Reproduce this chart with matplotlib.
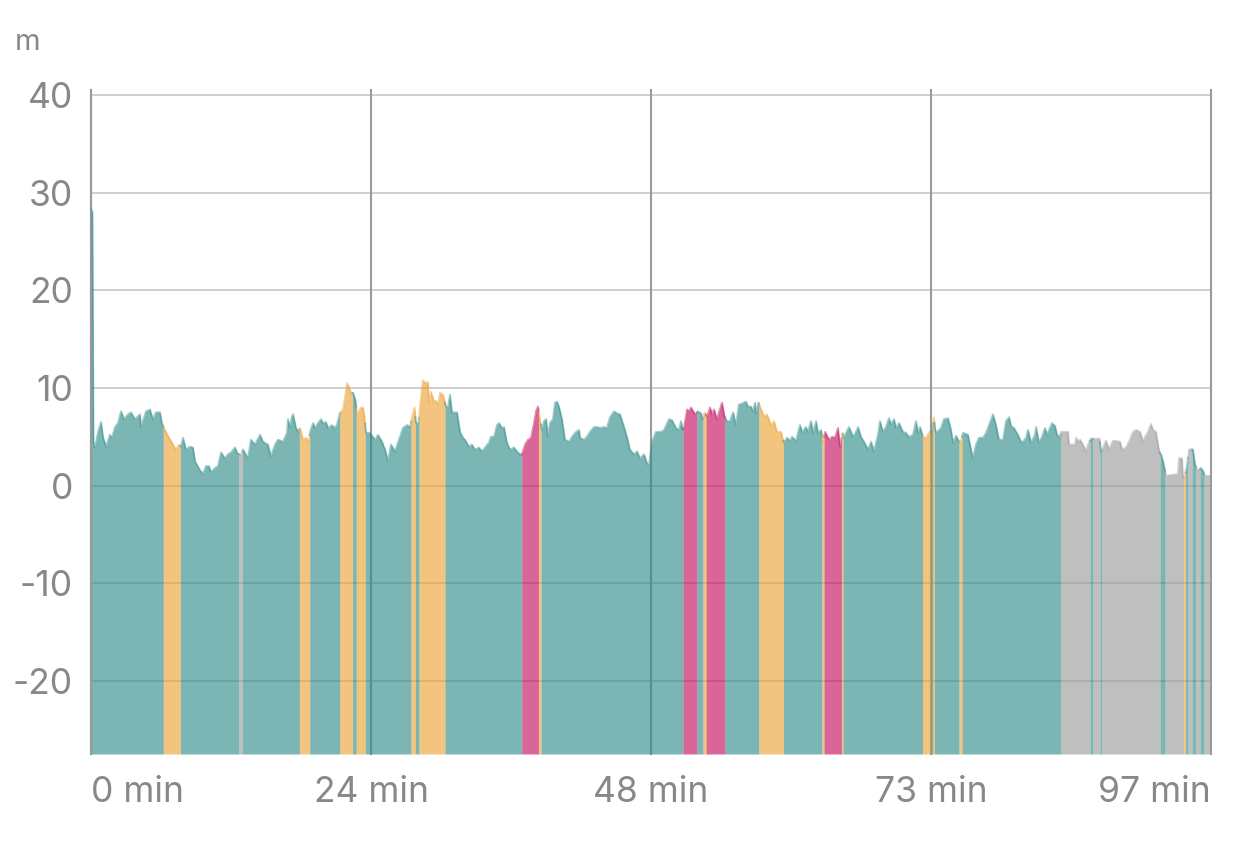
import numpy as np
import matplotlib.pyplot as plt

plt.rcParams['font.family'] = ['Inter', 'DejaVu Sans']
plt.rcParams['axes.unicode_minus'] = False

# dive length in minutes, depth profile in metres
total_min = 96.9
time_min = [
    0.00, 0.13, 0.22, 0.35, 0.61, 0.87, 1.04, 1.30, 1.64, 1.82, 2.08, 2.34, 2.60, 2.86, 3.20, 3.46,
    3.81, 4.24, 4.33, 4.76, 5.10, 5.36, 5.62, 5.97, 6.14, 6.32, 6.75, 7.01, 7.35, 7.61, 7.79, 7.96,
    8.22, 8.57, 8.83, 9.00, 9.43, 9.69, 9.95, 10.21, 10.38, 10.73, 10.99, 11.25, 11.59, 11.85, 12.11,
    12.46, 12.63, 12.80, 13.06, 13.15, 13.58, 13.84, 14.19, 14.62, 14.88, 15.31, 15.57, 15.92, 16.18,
    16.61, 16.96, 17.04, 17.22, 17.39, 17.48, 17.74, 17.95, 18.08, 18.34, 18.60, 18.86, 18.95, 19.21,
    19.38, 19.64, 19.90, 20.07, 20.33, 20.51, 20.85, 21.02, 21.28, 21.50, 21.63, 21.80, 21.98, 22.15,
    22.32, 22.50, 22.67, 22.88, 23.01, 23.36, 23.53, 23.66, 23.79, 24.14, 24.57, 24.83, 25.18, 25.44,
    25.70, 25.96, 26.30, 26.73, 26.99, 27.34, 27.60, 27.77, 27.99, 28.12, 28.34, 28.47, 28.72, 28.90,
    29.16, 29.24, 29.42, 29.68, 29.85, 30.02, 30.20, 30.46, 30.71, 30.89, 31.06, 31.23, 31.67, 31.93,
    32.19, 32.36, 32.70, 32.96, 33.22, 33.57, 33.83, 34.09, 34.43, 34.61, 34.87, 35.13, 35.30, 35.56,
    35.73, 35.99, 36.25, 36.60, 36.86, 37.12, 37.29, 37.55, 37.81, 38.07, 38.33, 38.50, 38.67, 38.80,
    39.02, 39.19, 39.37, 39.54, 39.71, 39.97, 40.15, 40.32, 40.49, 40.75, 41.01, 41.36, 41.62, 41.88,
    42.22, 42.31, 42.65, 42.91, 43.17, 43.52, 43.78, 44.04, 44.38, 44.64, 44.90, 45.25, 45.51, 45.77,
    46.12, 46.37, 46.63, 46.98, 47.24, 47.50, 47.85, 48.11, 48.28, 48.45, 48.54, 48.88, 49.32, 49.58,
    50.01, 50.27, 50.61, 50.87, 51.05, 51.18, 51.31, 51.57, 51.74, 51.91, 52.26, 52.52, 52.78, 52.91,
    53.08, 53.30, 53.56, 53.73, 53.90, 54.16, 54.33, 54.59, 54.81, 55.03, 55.29, 55.55, 55.81, 56.06,
    56.32, 56.67, 56.84, 57.10, 57.28, 57.45, 57.54, 57.75, 57.97, 58.23, 58.49, 58.83, 59.09, 59.35,
    59.70, 59.87, 59.96, 60.22, 60.48, 60.65, 61.00, 61.34, 61.52, 61.86, 62.03, 62.29, 62.47, 62.73,
    62.90, 63.16, 63.33, 63.51, 63.85, 64.11, 64.37, 64.63, 64.80, 65.02, 65.15, 65.32, 65.58, 65.93,
    66.19, 66.36, 66.62, 66.88, 67.23, 67.49, 67.74, 68.09, 68.26, 68.52, 68.78, 69.04, 69.22, 69.48,
    69.65, 69.91, 70.25, 70.51, 70.77, 71.12, 71.38, 71.55, 71.73, 71.98, 72.24, 72.55, 72.76, 72.92,
    73.07, 73.28, 73.54, 73.80, 74.15, 74.41, 74.58, 74.84, 75.06, 75.23, 75.45, 75.88, 76.14, 76.31,
    76.57, 76.83, 77.18, 77.44, 77.70, 78.04, 78.30, 78.56, 78.91, 79.17, 79.43, 79.60, 79.86, 80.20,
    80.46, 80.64, 80.90, 81.07, 81.33, 81.67, 81.76, 82.02, 82.28, 82.54, 82.71, 82.97, 83.14, 83.41,
    83.58, 83.84, 83.92, 84.53, 84.62, 85.14, 85.22, 85.40, 85.57, 85.83, 86.09, 86.26, 86.52, 86.78,
    87.26, 87.39, 87.56, 87.82, 88.08, 88.42, 89.03, 89.20, 89.55, 89.89, 90.15, 90.41, 90.76, 91.02,
    91.19, 91.45, 91.71, 91.88, 92.14, 92.32, 92.45, 92.58, 92.75, 92.88, 93.01, 94.05, 94.13, 94.39,
    94.48, 94.61, 94.82, 95.00, 95.22, 95.34, 95.52, 95.69, 95.86, 96.04, 96.21, 96.38, 96.90,
]
depth_m = [
    28.3, 28.0, 4.5, 3.9, 5.5, 6.5, 5.0, 4.0, 5.2, 4.9, 6.0, 6.4, 7.6, 6.8, 7.3, 7.5,
    6.8, 7.3, 6.0, 7.6, 7.8, 6.8, 7.5, 7.5, 6.4, 5.9, 4.9, 4.4, 3.7, 4.2, 4.0, 4.9,
    3.7, 4.0, 3.9, 2.5, 1.6, 1.2, 2.0, 2.0, 1.4, 1.8, 2.0, 3.4, 2.8, 3.2, 3.4,
    3.9, 3.4, 3.2, 3.2, 3.7, 2.8, 4.7, 4.2, 5.2, 4.5, 4.2, 3.0, 4.2, 4.7,
    4.5, 5.4, 6.8, 6.0, 7.1, 7.3, 5.9, 5.5, 5.9, 4.7, 4.9, 4.5, 5.5, 6.4,
    5.9, 6.4, 6.8, 6.4, 6.5, 5.9, 6.2, 5.9, 6.2, 7.3, 7.6, 7.8, 9.1, 10.5,
    10.1, 9.5, 9.5, 8.8, 7.3, 8.0, 8.0, 7.1, 5.4, 5.4, 4.7, 5.2, 4.5, 3.7,
    2.5, 4.2, 3.5, 5.0, 5.9, 6.2, 6.0, 7.0, 8.0, 6.4, 6.4, 8.1, 10.8, 10.5,
    10.6, 8.5, 9.6, 8.6, 8.7, 8.3, 9.5, 9.3, 8.1, 8.0, 9.3, 7.5, 7.5, 5.5,
    4.9, 4.7, 4.0, 4.2, 3.7, 3.9, 3.5, 3.9, 4.4, 5.0, 5.0, 6.2, 6.4, 5.9,
    6.0, 4.4, 3.7, 3.9, 3.5, 3.2, 3.2, 4.2, 4.7, 4.9, 6.4, 7.6, 8.1, 7.0,
    5.7, 6.6, 6.8, 5.0, 6.4, 6.8, 8.5, 8.6, 8.1, 6.8, 4.7, 4.5, 5.0, 5.4,
    5.7, 4.9, 4.7, 5.0, 5.5, 6.0, 6.0, 5.9, 6.0, 5.9, 7.0, 7.6, 7.4, 7.3,
    6.0, 5.0, 3.7, 3.2, 3.5, 2.8, 3.2, 2.3, 2.1, 3.7, 4.5, 5.5, 5.5, 5.7,
    6.8, 6.7, 5.9, 5.7, 6.6, 5.7, 6.0, 7.8, 7.6, 8.0, 7.3, 7.6, 7.4, 6.8,
    7.5, 7.1, 8.0, 7.3, 7.8, 6.8, 7.5, 8.5, 7.1, 6.6, 6.6, 7.5, 6.2, 8.3,
    8.4, 8.6, 8.1, 8.1, 7.6, 8.5, 7.4, 8.5, 7.8, 7.1, 7.3, 6.2, 6.6, 5.5,
    5.5, 4.7, 4.4, 4.9, 4.6, 5.0, 4.6, 6.2, 5.5, 6.0, 5.5, 6.6, 5.4, 6.6,
    5.4, 5.7, 4.5, 5.5, 4.7, 5.0, 4.9, 5.9, 4.0, 5.4, 4.9, 5.4, 6.0, 5.0,
    5.5, 6.0, 5.0, 4.5, 3.7, 4.5, 3.5, 5.2, 6.6, 5.5, 6.0, 6.9, 6.3, 6.8,
    5.9, 6.4, 5.5, 5.4, 5.0, 5.2, 6.6, 5.4, 6.0, 5.0, 4.9, 5.5, 5.5, 7.0,
    5.5, 5.6, 5.9, 6.8, 6.9, 5.7, 4.4, 5.1, 4.6, 4.4, 5.4, 5.2, 3.7, 2.8,
    4.2, 4.9, 4.9, 5.4, 6.2, 7.3, 6.2, 4.7, 4.7, 6.6, 7.0, 6.1, 5.9, 5.2,
    4.5, 4.5, 4.9, 5.7, 4.4, 5.2, 6.0, 4.4, 5.0, 5.9, 5.2, 5.9, 6.4, 6.1,
    5.2, 4.9, 5.5, 5.5, 4.2, 4.2, 4.9, 4.5, 4.7, 4.2, 3.5, 4.2, 4.8, 4.8,
    4.8, 3.4, 3.9, 4.6, 3.7, 4.6, 4.5, 3.7, 3.9, 4.7, 5.5, 5.7, 5.5, 4.5,
    5.0, 5.5, 6.3, 5.7, 5.5, 4.2, 3.4, 3.2, 2.5, 1.8, 1.0, 1.2, 2.8, 2.8,
    0.8, 0.8, 2.0, 3.7, 3.7, 3.7, 2.2, 1.6, 1.6, 1.8, 1.5, 1.0, 1.0,
]

# segment boundaries (minutes) and the status of each segment
seg_edges = [
    0.00, 6.26, 7.73, 12.79, 13.11, 18.03, 18.92, 21.54, 22.63, 22.95, 23.72, 27.69, 28.07, 28.38,
    30.63, 37.27, 38.72, 38.93, 51.22, 52.43, 52.95, 53.21, 54.85, 57.79, 59.91, 63.24, 63.42, 64.93,
    65.06, 71.94, 72.68, 72.85, 72.98, 75.10, 75.36, 83.88, 86.43, 86.69, 87.30, 87.47, 92.49, 92.93,
    94.55, 94.70, 94.91, 95.26, 95.60, 95.95, 96.30, 96.90,
]
seg_kind = [
    'ok', 'warn', 'ok', 'none', 'ok', 'warn', 'ok', 'warn', 'ok', 'warn', 'ok', 'warn', 'ok',
    'warn', 'ok', 'alert', 'warn', 'ok', 'alert', 'ok', 'warn', 'alert', 'ok', 'warn', 'ok', 'warn',
    'alert', 'warn', 'ok', 'warn', 'ok', 'warn', 'ok', 'warn', 'ok', 'none', 'ok', 'none', 'ok',
    'none', 'ok', 'none', 'warn', 'ok', 'none', 'ok', 'none', 'ok', 'none',
]
kind_color = {'ok': '#2a8a86', 'warn': '#eaa02f', 'alert': '#c2085a', 'none': '#999999'}

y_bottom = -27.47
y_top = 40.5
text_gray = '#888888'

fig = plt.figure(figsize=(12.42, 8.44), dpi=100)
ax = fig.add_axes([91 / 1242, 1 - 754 / 844, 1120 / 1242, 664 / 844])

t = np.array(time_min)
d = np.array(depth_m)
for s, e, k in zip(seg_edges[:-1], seg_edges[1:], seg_kind):
    m = (t > s) & (t < e)
    xs = np.concatenate([[s], t[m], [e]])
    ys = np.concatenate([[np.interp(s, t, d)], d[m], [np.interp(e, t, d)]])
    ax.fill_between(xs, y_bottom, ys, color=kind_color[k], alpha=0.62, lw=0, zorder=2)
    ax.plot(xs, ys, color=kind_color[k], alpha=0.45, lw=1.4, zorder=3)

ax.set_xlim(0, total_min)
ax.set_ylim(y_bottom, y_top)

yt = list(range(-20, 41, 10))
ax.set_yticks(yt)
ax.set_yticklabels([str(v) for v in yt])
xt = [total_min * i / 4 for i in range(5)]
ax.set_xticks(xt)
ax.set_xticklabels([f"{round(v)} min" for v in xt])
labels = ax.get_xticklabels()
labels[0].set_ha('left')
labels[-1].set_ha('right')

ax.set_axisbelow(True)
for v in yt:
    ax.axhline(v, color='#cccccc', lw=1.3, zorder=0)
for v in xt:
    ax.axvline(v, color='#9a9a9a', lw=1.5, zorder=0, clip_on=False)

for side in ['top', 'right', 'bottom']:
    ax.spines[side].set_visible(False)
ax.spines['left'].set_color('#9a9a9a')
ax.spines['left'].set_linewidth(1.5)
ax.tick_params(axis='both', length=0, labelsize=25.5, labelcolor=text_gray)
ax.tick_params(axis='y', pad=13)
ax.tick_params(axis='x', pad=16)

fig.text(15 / 1242, 1 - 43 / 844, 'm', fontsize=21, color=text_gray, ha='left', va='center')

fig.savefig('out.png', dpi=100)
